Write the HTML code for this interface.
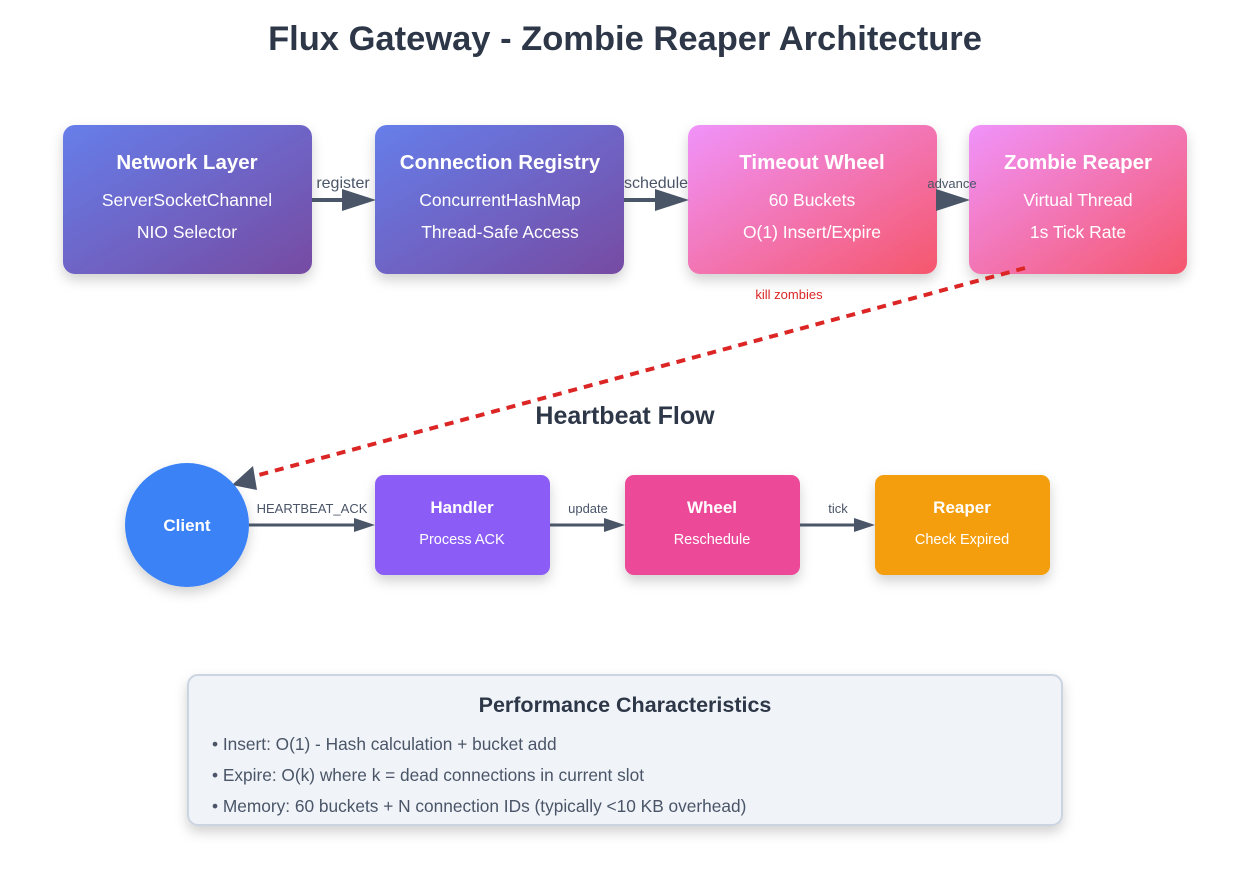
<!DOCTYPE html>
<html><head><meta charset="utf-8"><style>
body{margin:0;background:#fff;}
svg{display:block;font-family:"Liberation Sans","DejaVu Sans",sans-serif;}
</style></head><body>
<svg width="1250" height="875" viewBox="0 0 1250 875">
<defs>
<linearGradient id="g1" x1="0" y1="0" x2="1" y2="1"><stop offset="0" stop-color="#667eea"/><stop offset="1" stop-color="#764ba2"/></linearGradient>
<linearGradient id="g2" x1="0" y1="0" x2="1" y2="1"><stop offset="0" stop-color="#f093fb"/><stop offset="1" stop-color="#f5576c"/></linearGradient>
<filter id="sh" x="-20%" y="-20%" width="140%" height="150%"><feDropShadow dx="0" dy="6" stdDeviation="6" flood-color="#000" flood-opacity="0.18"/></filter>
</defs>
<text x="625" y="50" text-anchor="middle" font-size="34.5" font-weight="bold" fill="#2d3748">Flux Gateway - Zombie Reaper Architecture</text>

<g filter="url(#sh)">
<rect x="63" y="125" width="249" height="149" rx="12" fill="url(#g1)"/>
<rect x="375" y="125" width="249" height="149" rx="12" fill="url(#g1)"/>
<rect x="688" y="125" width="249" height="149" rx="12" fill="url(#g2)"/>
<rect x="969" y="125" width="218" height="149" rx="12" fill="url(#g2)"/>
</g>
<g fill="#fff" text-anchor="middle">
<text x="187" y="169" font-size="20.5" font-weight="bold">Network Layer</text>
<text x="187" y="206" font-size="17.5">ServerSocketChannel</text>
<text x="187" y="238" font-size="17.5">NIO Selector</text>
<text x="500" y="169" font-size="20.5" font-weight="bold">Connection Registry</text>
<text x="500" y="206" font-size="17.5">ConcurrentHashMap</text>
<text x="500" y="238" font-size="17.5">Thread-Safe Access</text>
<text x="812" y="169" font-size="20.5" font-weight="bold">Timeout Wheel</text>
<text x="812" y="206" font-size="17.5">60 Buckets</text>
<text x="812" y="238" font-size="17.5">O(1) Insert/Expire</text>
<text x="1078" y="169" font-size="20.5" font-weight="bold">Zombie Reaper</text>
<text x="1078" y="206" font-size="17.5">Virtual Thread</text>
<text x="1078" y="238" font-size="17.5">1s Tick Rate</text>
</g>
<g stroke="#4a5568" stroke-width="4" fill="none">
<line x1="312" y1="200" x2="345" y2="200"/>
<line x1="624" y1="200" x2="658" y2="200"/>
<line x1="937" y1="200" x2="942" y2="200"/>
</g>
<g fill="#4a5568">
<polygon points="342,189 376,200 342,211"/>
<polygon points="655,189 689,200 655,211"/>
<polygon points="936,189 970,200 936,211"/>
</g>
<g fill="#4a5568" text-anchor="middle">
<text x="343" y="188" font-size="16">register</text>
<text x="656" y="188" font-size="16">schedule</text>
<text x="952" y="188" font-size="13">advance</text>
</g>
<text x="789" y="299" font-size="13" fill="#dc2626" text-anchor="middle">kill zombies</text>
<line x1="1025" y1="268" x2="255" y2="476" stroke="#dc2626" stroke-width="4" stroke-dasharray="9,7"/>
<polygon points="232,485 253,466 257,490" fill="#4a5568"/>

<text x="625" y="424" text-anchor="middle" font-size="25" font-weight="bold" fill="#2d3748">Heartbeat Flow</text>

<g filter="url(#sh)">
<circle cx="187" cy="525" r="62" fill="#3b82f6"/>
<rect x="375" y="475" width="175" height="100" rx="9" fill="#8b5cf6"/>
<rect x="625" y="475" width="175" height="100" rx="9" fill="#ec4899"/>
<rect x="875" y="475" width="175" height="100" rx="9" fill="#f59e0b"/>
</g>
<g fill="#fff" text-anchor="middle">
<text x="187" y="531" font-size="17" font-weight="bold">Client</text>
<text x="462" y="513" font-size="17" font-weight="bold">Handler</text>
<text x="462" y="544" font-size="14.5">Process ACK</text>
<text x="712" y="513" font-size="17" font-weight="bold">Wheel</text>
<text x="712" y="544" font-size="14.5">Reschedule</text>
<text x="962" y="513" font-size="17" font-weight="bold">Reaper</text>
<text x="962" y="544" font-size="14.5">Check Expired</text>
</g>
<g stroke="#4a5568" stroke-width="3">
<line x1="249" y1="525" x2="358" y2="525"/>
<line x1="550" y1="525" x2="608" y2="525"/>
<line x1="800" y1="525" x2="858" y2="525"/>
</g>
<g fill="#4a5568">
<polygon points="354,518 375,525 354,532"/>
<polygon points="604,518 625,525 604,532"/>
<polygon points="854,518 875,525 854,532"/>
</g>
<g fill="#4a5568" text-anchor="middle" font-size="13">
<text x="312" y="513">HEARTBEAT_ACK</text>
<text x="588" y="513">update</text>
<text x="838" y="513">tick</text>
</g>

<rect x="188" y="675" width="874" height="150" rx="10" fill="#f0f4f8" stroke="#cbd5e1" stroke-width="2" filter="url(#sh)"/>
<text x="625" y="712" text-anchor="middle" font-size="21.5" font-weight="bold" fill="#2d3748">Performance Characteristics</text>
<g fill="#4a5568" font-size="17.3">
<text x="212" y="750">• Insert: O(1) - Hash calculation + bucket add</text>
<text x="212" y="781">• Expire: O(k) where k = dead connections in current slot</text>
<text x="212" y="812">• Memory: 60 buckets + N connection IDs (typically &lt;10 KB overhead)</text>
</g>
</svg>
</body></html>
